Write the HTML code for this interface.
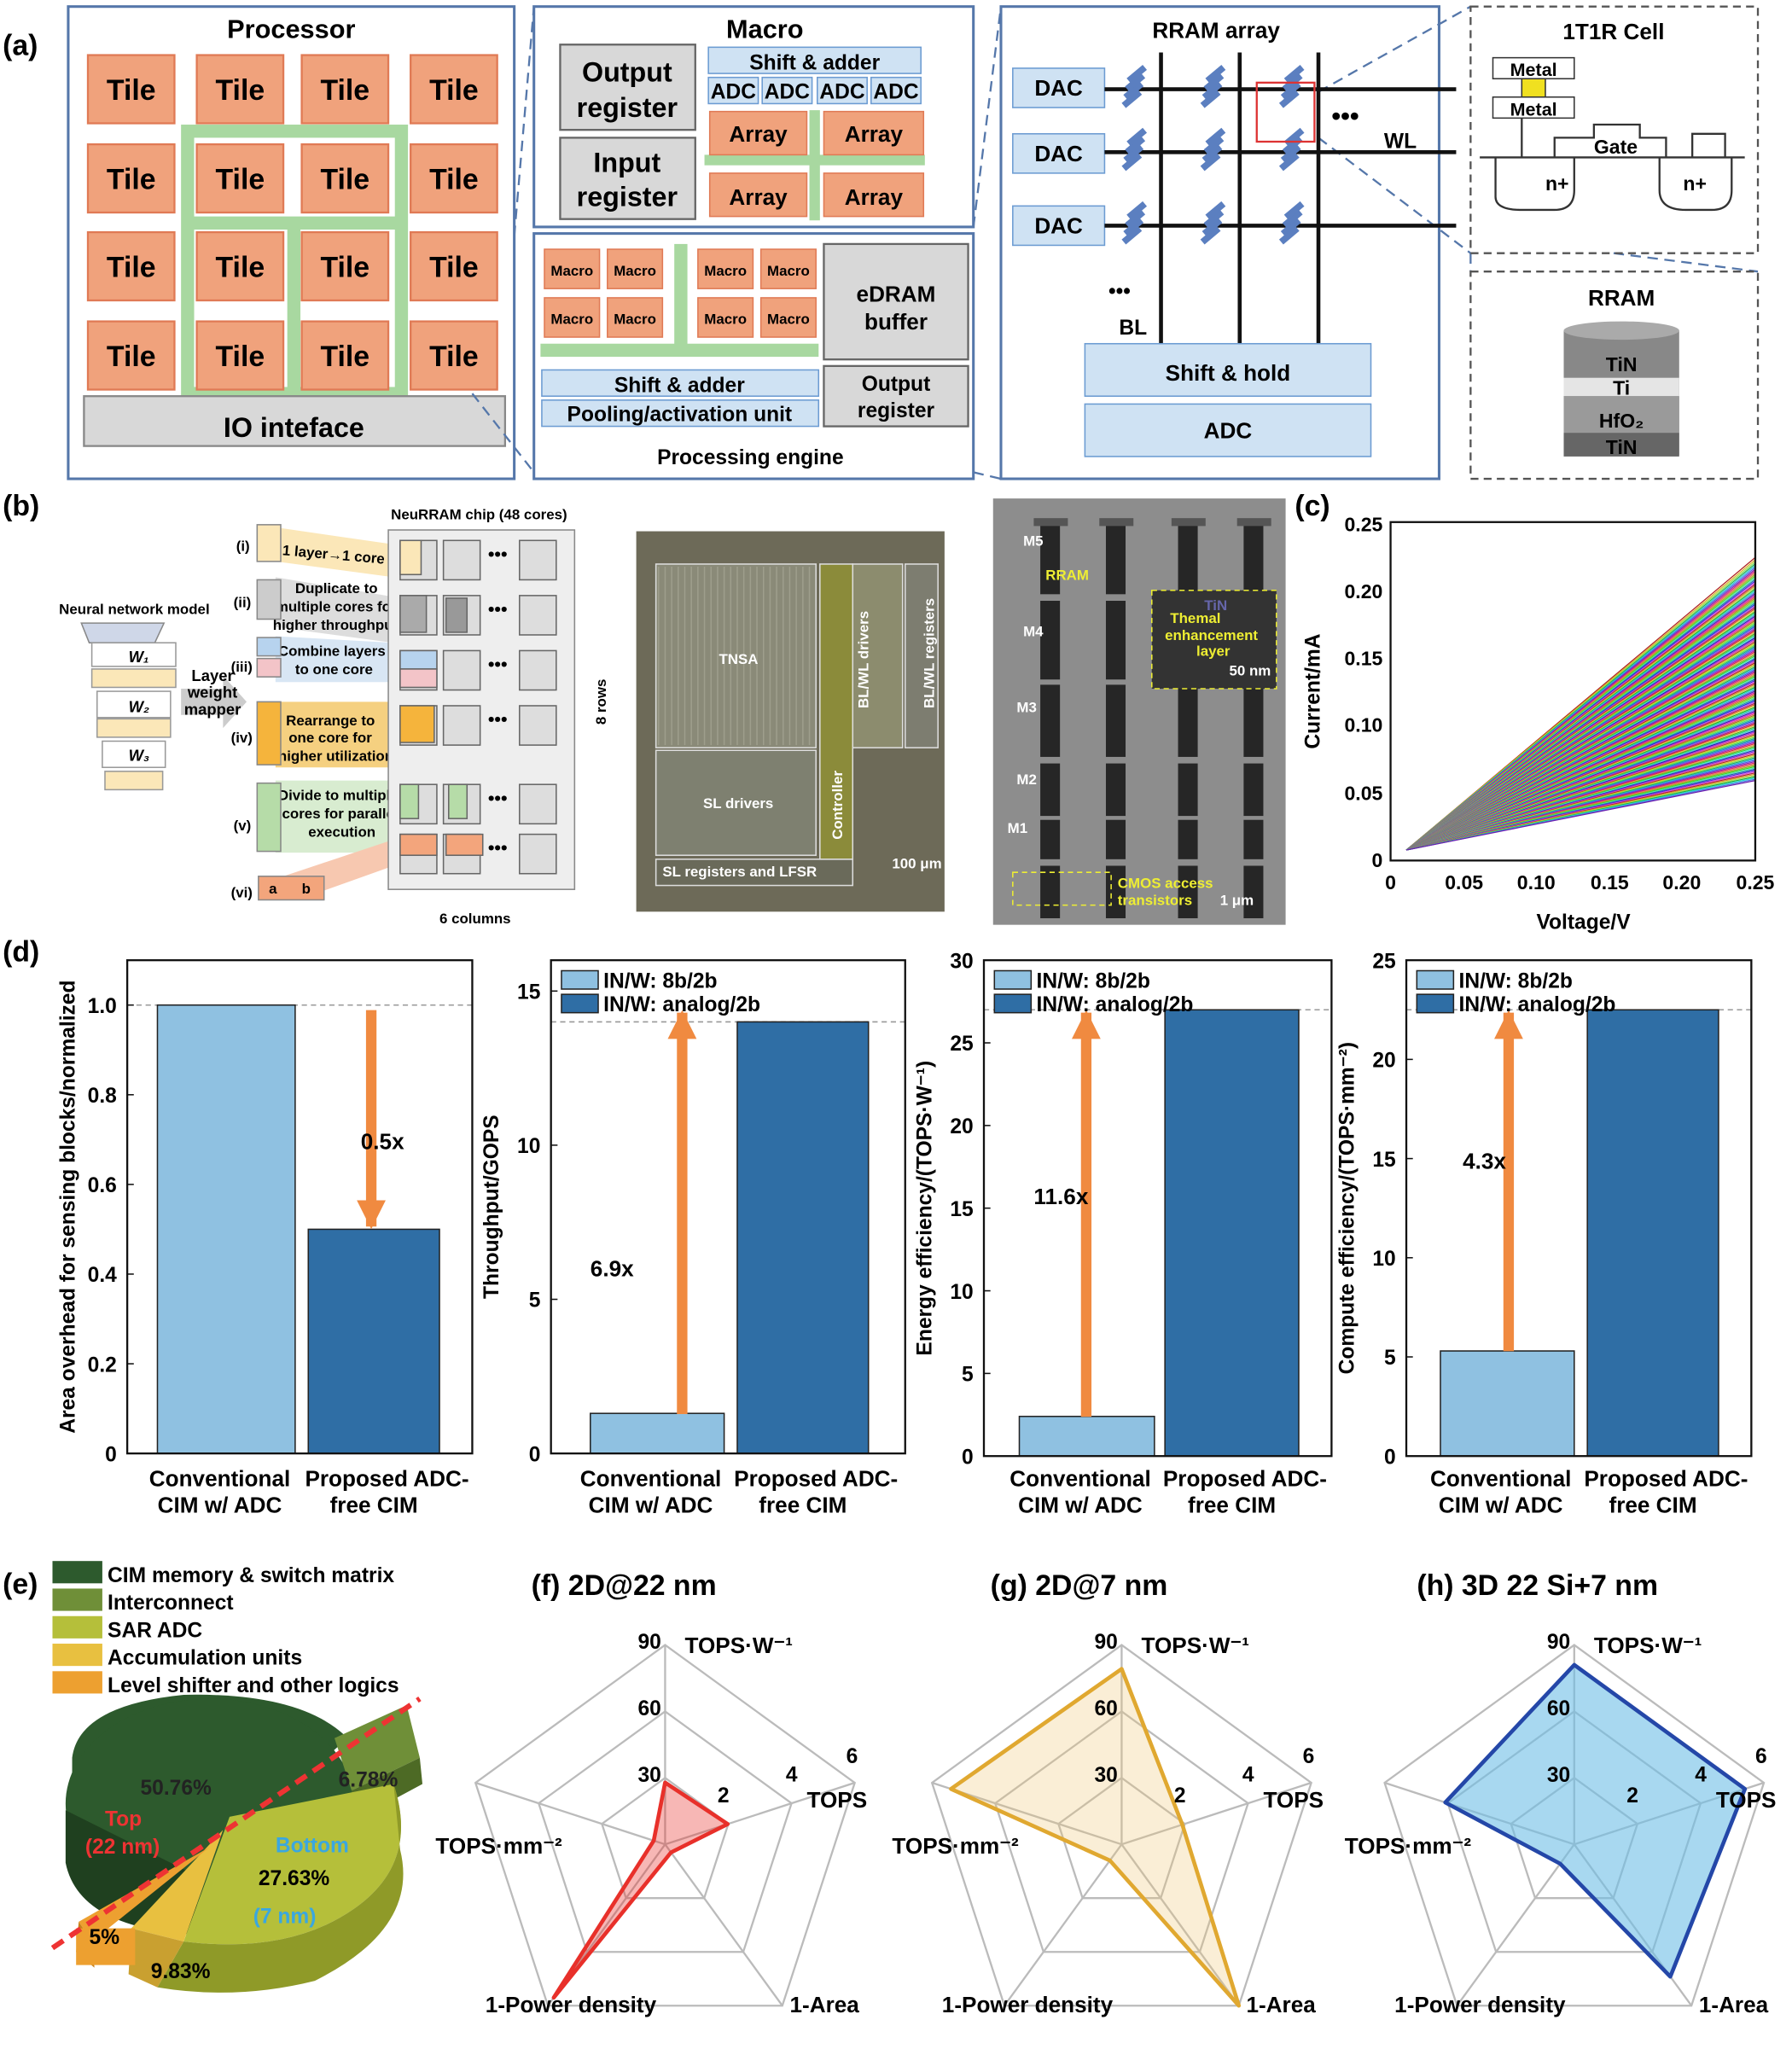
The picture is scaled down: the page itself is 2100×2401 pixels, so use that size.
<!DOCTYPE html>
<html><head><meta charset="utf-8"><style>
html,body{margin:0;padding:0;background:#fff}
svg{display:block}
text{font-family:"Liberation Sans",Arial,sans-serif;font-weight:bold}
</style></head><body>
<svg id="s" width="2100" height="2401" viewBox="0 0 1366 1562" preserveAspectRatio="none" xmlns="http://www.w3.org/2000/svg">
<rect width="1366" height="1562" fill="#fff"/>
<!-- (a) -->
<text x="2" y="42" font-size="22">(a)</text>
<rect x="52" y="5" width="340" height="360" fill="none" stroke="#5577aa" stroke-width="2"/>
<text x="222" y="29" font-size="20" text-anchor="middle">Processor</text>
<g fill="none" stroke="#a8d8a0" stroke-width="10">
<rect x="143" y="100" width="163" height="200"/><line x1="143" y1="170" x2="306" y2="170"/><line x1="224" y1="170" x2="224" y2="300"/>
</g>
<g id="tiles" fill="#f0a27c" stroke="#e07a55" stroke-width="1.5"></g>
<rect x="64" y="302" width="321" height="38" fill="#d8d8d8" stroke="#888" stroke-width="1.5"/>
<text x="224" y="333" font-size="21" text-anchor="middle">IO inteface</text>
<rect x="407" y="5" width="335" height="168" fill="none" stroke="#5577aa" stroke-width="2"/>
<text x="583" y="29" font-size="20" text-anchor="middle">Macro</text>
<rect x="427" y="34" width="103" height="65" fill="#d8d8d8" stroke="#666" stroke-width="1.5"/>
<text x="478" y="62" font-size="21" text-anchor="middle">Output</text><text x="478" y="89" font-size="21" text-anchor="middle">register</text>
<rect x="427" y="105" width="103" height="62" fill="#d8d8d8" stroke="#666" stroke-width="1.5"/>
<text x="478" y="131" font-size="21" text-anchor="middle">Input</text><text x="478" y="157" font-size="21" text-anchor="middle">register</text>
<rect x="540" y="36" width="162" height="20" fill="#cfe2f3" stroke="#6b9bd2"/>
<text x="621" y="53" font-size="16" text-anchor="middle">Shift &amp; adder</text>
<g fill="#cfe2f3" stroke="#6b9bd2"><rect x="540" y="59" width="38" height="20"/><rect x="581" y="59" width="38" height="20"/><rect x="623" y="59" width="38" height="20"/><rect x="664" y="59" width="38" height="20"/></g>
<g font-size="16" text-anchor="middle"><text x="559" y="75">ADC</text><text x="600" y="75">ADC</text><text x="642" y="75">ADC</text><text x="683" y="75">ADC</text></g>
<rect x="537" y="118" width="168" height="8" fill="#a8d8a0"/><rect x="617" y="84" width="8" height="84" fill="#a8d8a0"/>
<g fill="#f0a27c" stroke="#e07a55"><rect x="541" y="85" width="74" height="33"/><rect x="628" y="85" width="76" height="33"/><rect x="541" y="132" width="74" height="33"/><rect x="628" y="132" width="76" height="33"/></g>
<g font-size="17" text-anchor="middle"><text x="578" y="108">Array</text><text x="666" y="108">Array</text><text x="578" y="156">Array</text><text x="666" y="156">Array</text></g>
<rect x="407" y="178" width="335" height="187" fill="none" stroke="#5577aa" stroke-width="2"/>
<rect x="412" y="262" width="212" height="10" fill="#a8d8a0"/><rect x="514" y="186" width="10" height="80" fill="#a8d8a0"/>
<g id="mac" fill="#f0a27c" stroke="#e07a55"></g>
<rect x="628" y="186" width="110" height="88" fill="#d8d8d8" stroke="#666" stroke-width="1.5"/>
<text x="683" y="230" font-size="17" text-anchor="middle">eDRAM</text><text x="683" y="251" font-size="17" text-anchor="middle">buffer</text>
<rect x="413" y="282" width="211" height="20" fill="#cfe2f3" stroke="#6b9bd2"/><text x="518" y="299" font-size="16" text-anchor="middle">Shift &amp; adder</text>
<rect x="413" y="305" width="211" height="20" fill="#cfe2f3" stroke="#6b9bd2"/><text x="518" y="321" font-size="16" text-anchor="middle">Pooling/activation unit</text>
<rect x="628" y="279" width="110" height="46" fill="#d8d8d8" stroke="#666" stroke-width="1.5"/>
<text x="683" y="298" font-size="16" text-anchor="middle">Output</text><text x="683" y="318" font-size="16" text-anchor="middle">register</text>
<text x="572" y="354" font-size="16" text-anchor="middle">Processing engine</text>
<g stroke="#5577aa" stroke-dasharray="8 5" stroke-width="1.5" fill="none">
<line x1="392" y1="180" x2="407" y2="5"/><line x1="360" y1="300" x2="407" y2="360"/>
<line x1="742" y1="173" x2="763" y2="5"/><line x1="742" y1="360" x2="763" y2="365"/>
<line x1="1005" y1="70" x2="1121" y2="5"/><line x1="1005" y1="105" x2="1121" y2="193"/>
<line x1="1230" y1="193" x2="1340" y2="207"/><line x1="1121" y1="193" x2="1121" y2="207"/>
</g>
<rect x="763" y="5" width="334" height="360" fill="none" stroke="#5577aa" stroke-width="2"/>
<text x="927" y="29" font-size="17" text-anchor="middle">RRAM array</text>
<g fill="#cfe2f3" stroke="#6b9bd2"><rect x="772" y="52" width="70" height="30"/><rect x="772" y="102" width="70" height="30"/><rect x="772" y="157" width="70" height="30"/></g>
<g font-size="17" text-anchor="middle"><text x="807" y="73">DAC</text><text x="807" y="123">DAC</text><text x="807" y="178">DAC</text></g>
<g stroke="#111" stroke-width="3"><line x1="842" y1="68" x2="1110" y2="68"/><line x1="842" y1="116" x2="1110" y2="116"/><line x1="842" y1="172" x2="1110" y2="172"/>
<line x1="885" y1="40" x2="885" y2="262"/><line x1="945" y1="40" x2="945" y2="262"/><line x1="1005" y1="40" x2="1005" y2="262"/></g>
<g id="rr" fill="#5b7fc0"></g>
<rect x="958" y="63" width="44" height="45" fill="none" stroke="#d33" stroke-width="1.5"/>
<text x="1015" y="95" font-size="20">•••</text><text x="1055" y="113" font-size="16">WL</text>
<text x="845" y="227" font-size="16">•••</text><text x="853" y="255" font-size="16">BL</text>
<rect x="827" y="262" width="218" height="40" fill="#cfe2f3" stroke="#6b9bd2"/><text x="936" y="290" font-size="17" text-anchor="middle">Shift &amp; hold</text>
<rect x="827" y="308" width="218" height="40" fill="#cfe2f3" stroke="#6b9bd2"/><text x="936" y="334" font-size="17" text-anchor="middle">ADC</text>
<rect x="1121" y="5" width="219" height="188" fill="none" stroke="#555" stroke-dasharray="6 4" stroke-width="1.5"/>
<text x="1230" y="30" font-size="17" text-anchor="middle">1T1R Cell</text>
<rect x="1138" y="44" width="62" height="16" fill="#fff" stroke="#333"/><text x="1169" y="58" font-size="14" text-anchor="middle">Metal</text>
<rect x="1160" y="60" width="18" height="14" fill="#f0e020" stroke="#333"/>
<rect x="1138" y="74" width="62" height="16" fill="#fff" stroke="#333"/><text x="1169" y="88" font-size="14" text-anchor="middle">Metal</text>
<path d="M1128 120 H1330 M1185 120 V105 H1215 V95 H1250 V105 H1270 V120 M1290 120 V102 H1315 V120 M1160 90 V120" fill="none" stroke="#333" stroke-width="1.5"/>
<path d="M1140 120 V150 Q1140 160 1160 160 H1185 Q1200 160 1200 145 V120 M1265 120 V145 Q1265 160 1285 160 H1305 Q1320 160 1320 145 V120" fill="none" stroke="#333" stroke-width="1.5"/>
<text x="1178" y="145" font-size="15">n+</text><text x="1283" y="145" font-size="15">n+</text><text x="1215" y="117" font-size="15">Gate</text>
<rect x="1121" y="207" width="219" height="158" fill="none" stroke="#555" stroke-dasharray="6 4" stroke-width="1.5"/>
<text x="1236" y="233" font-size="17" text-anchor="middle">RRAM</text>
<rect x="1192" y="252" width="88" height="95" fill="#888"/><ellipse cx="1236" cy="252" rx="44" ry="7" fill="#aaa"/>
<rect x="1192" y="288" width="88" height="14" fill="#e5e5e5"/><rect x="1192" y="302" width="88" height="28" fill="#9a9a9a"/><rect x="1192" y="330" width="88" height="18" fill="#666"/>
<g font-size="15" text-anchor="middle"><text x="1236" y="283">TiN</text><text x="1236" y="301">Ti</text><text x="1236" y="326">HfO₂</text><text x="1236" y="346">TiN</text></g>

<!-- (b) -->
<text x="2" y="393" font-size="22">(b)</text>
<text x="45" y="468" font-size="11">Neural network model</text>
<path d="M62 475 H125 L118 490 H68 Z" fill="#cfd7e8" stroke="#888"/>
<rect x="70" y="490" width="64" height="18" fill="#fff" stroke="#999"/><rect x="70" y="510" width="64" height="14" fill="#fbe7b8" stroke="#999"/>
<rect x="74" y="527" width="56" height="20" fill="#fff" stroke="#999"/><rect x="74" y="548" width="56" height="14" fill="#fbe7b8" stroke="#999"/>
<rect x="78" y="565" width="48" height="20" fill="#fff" stroke="#999"/><rect x="80" y="588" width="44" height="14" fill="#fbe7b8" stroke="#999"/>
<text x="98" y="505" font-size="12" font-style="italic">W₁</text><text x="98" y="543" font-size="12" font-style="italic">W₂</text><text x="98" y="580" font-size="12" font-style="italic">W₃</text>
<path d="M138 525 L170 525 L170 515 L188 535 L170 555 L170 545 L138 545Z" fill="#ccc"/>
<text x="162" y="519" font-size="12" text-anchor="middle">Layer</text><text x="162" y="532" font-size="12" text-anchor="middle">weight</text><text x="162" y="545" font-size="12" text-anchor="middle">mapper</text>
<polygon points="210,402 300,415 300,440 210,428" fill="#fbe7b8"/><polygon points="210,440 300,455 300,490 210,478" fill="#ddd"/>
<polygon points="210,485 300,490 300,520 210,520" fill="#d8e6f4"/><polygon points="210,535 300,535 300,585 210,585" fill="#f5d080"/>
<polygon points="210,595 300,595 300,650 210,650" fill="#d8ecd0"/><polygon points="210,670 300,640 300,660 230,685" fill="#f7c8b0"/>
<g font-size="11"><text x="180" y="420">(i)</text><text x="178" y="463">(ii)</text><text x="176" y="512">(iii)</text><text x="176" y="566">(iv)</text><text x="178" y="633">(v)</text><text x="176" y="684">(vi)</text>
<text x="215" y="423" transform="rotate(5 215 423)">1 layer→1 core</text><text x="225" y="452">Duplicate to</text><text x="210" y="466">multiple cores for</text><text x="208" y="480">higher throughput</text>
<text x="212" y="500">Combine layers</text><text x="225" y="514">to one core</text><text x="218" y="553">Rearrange to</text><text x="220" y="566">one core for</text><text x="212" y="580">higher utilization</text>
<text x="212" y="610">Divide to multiple</text><text x="215" y="624">cores for parallel</text><text x="235" y="638">execution</text></g>
<rect x="196" y="400" width="18" height="28" fill="#fbe7b8" stroke="#888"/><rect x="196" y="442" width="18" height="30" fill="#ccc" stroke="#888"/>
<rect x="196" y="486" width="18" height="14" fill="#b7d3ee" stroke="#888"/><rect x="196" y="502" width="18" height="14" fill="#f3c4c8" stroke="#888"/>
<rect x="196" y="535" width="18" height="48" fill="#f5b43c" stroke="#888"/><rect x="196" y="597" width="18" height="52" fill="#b6dca8" stroke="#888"/>
<rect x="197" y="668" width="50" height="18" fill="#f3a57c" stroke="#888"/><text x="205" y="681" font-size="11">a</text><text x="230" y="681" font-size="11">b</text>
<text x="298" y="396" font-size="11">NeuRRAM chip (48 cores)</text>
<rect x="296" y="404" width="142" height="274" fill="#eee" stroke="#888"/>
<g id="cores" fill="#ddd" stroke="#666"></g>
<text x="335" y="704" font-size="11">6 columns</text><text x="462" y="535" font-size="11" transform="rotate(-90 462 535)" text-anchor="middle">8 rows</text>
<!-- chip photo -->
<rect x="485" y="405" width="235" height="290" fill="#6d6a58"/>
<rect x="500" y="430" width="122" height="140" fill="#8a8a78" stroke="#ddd"/>
<g stroke="#9e9e8c" stroke-width="1" id="chipg"></g>
<rect x="500" y="572" width="122" height="80" fill="#7e8070" stroke="#ddd"/>
<rect x="500" y="655" width="150" height="20" fill="#6a6a5a" stroke="#ddd"/>
<rect x="625" y="430" width="25" height="225" fill="#8b8b3a" stroke="#ddd"/><rect x="650" y="430" width="38" height="140" fill="#8c8c6e" stroke="#ddd"/><rect x="690" y="430" width="25" height="140" fill="#7d7d70" stroke="#ddd"/>
<g fill="#fff" font-size="11"><text x="548" y="506">TNSA</text><text x="536" y="616">SL drivers</text><text x="505" y="668">SL registers and LFSR</text><text x="680" y="662">100 μm</text>
<text x="642" y="640" transform="rotate(-90 642 640)">Controller</text><text x="662" y="540" transform="rotate(-90 662 540)">BL/WL drivers</text><text x="712" y="540" transform="rotate(-90 712 540)">BL/WL registers</text></g>
<!-- TEM -->
<rect x="757" y="380" width="223" height="325" fill="#8d8d8d"/>
<g id="tem" fill="#262626"></g>
<rect x="878" y="450" width="95" height="75" fill="#333" stroke="#ee3" stroke-dasharray="4 3"/>
<rect x="772" y="665" width="75" height="25" fill="none" stroke="#ee3" stroke-dasharray="4 3"/>
<g font-size="11" fill="#fff"><text x="780" y="416">M5</text><text x="780" y="485">M4</text><text x="775" y="543">M3</text><text x="775" y="598">M2</text><text x="768" y="635">M1</text><text x="930" y="690">1 μm</text><text x="937" y="515">50 nm</text></g>
<g font-size="11" fill="#ee3"><text x="797" y="442">RRAM</text><text x="892" y="475">Themal</text><text x="888" y="488">enhancement</text><text x="912" y="500">layer</text><text x="852" y="677">CMOS access</text><text x="852" y="690">transistors</text></g>
<text x="918" y="465" font-size="11" fill="#66a">TiN</text>
<!-- (c) -->
<text x="987" y="393" font-size="22">(c)</text>
<g id="iv" fill="none" stroke-width="0.8"></g>
<rect x="1060" y="398" width="278" height="258" fill="none" stroke="#111" stroke-width="1.5"/>
<g font-size="15" text-anchor="end"><text x="1054" y="405">0.25</text><text x="1054" y="456">0.20</text><text x="1054" y="507">0.15</text><text x="1054" y="558">0.10</text><text x="1054" y="610">0.05</text><text x="1054" y="661">0</text></g>
<g font-size="15" text-anchor="middle"><text x="1060" y="678">0</text><text x="1116" y="678">0.05</text><text x="1171" y="678">0.10</text><text x="1227" y="678">0.15</text><text x="1282" y="678">0.20</text><text x="1338" y="678">0.25</text></g>
<text x="1207" y="708" font-size="16" text-anchor="middle">Voltage/V</text>
<text x="1006" y="527" font-size="16" text-anchor="middle" transform="rotate(-90 1006 527)">Current/mA</text>
<!-- (d) -->
<text x="2" y="733" font-size="22">(d)</text>
<g id="d"></g>
<!-- (e) -->
<text x="2" y="1215" font-size="22">(e)</text>
<g font-size="16"><rect x="40" y="1190" width="38" height="17" fill="#2d5a2d"/><text x="82" y="1206">CIM memory &amp; switch matrix</text>
<rect x="40" y="1211" width="38" height="17" fill="#6f8f38"/><text x="82" y="1227">Interconnect</text>
<rect x="40" y="1232" width="38" height="17" fill="#b5bf3a"/><text x="82" y="1248">SAR ADC</text>
<rect x="40" y="1253" width="38" height="17" fill="#e8c040"/><text x="82" y="1269">Accumulation units</text>
<rect x="40" y="1274" width="38" height="17" fill="#eda030"/><text x="82" y="1290">Level shifter and other logics</text></g>
<path d="M55 1340 Q60 1300 140 1292 Q230 1290 265 1325 L180 1400 L55 1400 Z" fill="#2d5a2d"/>
<ellipse cx="160" cy="1375" rx="110" ry="80" fill="#2d5a2d"/>
<path d="M50 1380 L50 1420 Q60 1470 150 1475 L150 1430 Z" fill="#1f401f"/>
<path d="M255 1325 L310 1300 L320 1340 L268 1365 Z" fill="#6f8f38"/><path d="M268 1365 L320 1340 L322 1360 L270 1388 Z" fill="#4d6a25"/>
<path d="M175 1385 L300 1360 Q320 1420 270 1455 Q220 1490 140 1480 Z" fill="#b5bf3a"/>
<path d="M140 1480 Q220 1490 270 1455 Q320 1420 300 1360 L305 1410 Q320 1470 240 1510 Q180 1525 120 1515 Z" fill="#8f9a28"/>
<path d="M170 1395 L140 1480 L100 1470 Z" fill="#e8c040"/><path d="M100 1470 L140 1480 L120 1515 L98 1505Z" fill="#c9a030"/>
<path d="M160 1408 L60 1465 L70 1480 Z" fill="#eda030"/><path d="M60 1465 L70 1480 L72 1500 L58 1488Z" fill="#c7801a"/><rect x="58" y="1470" width="45" height="28" fill="#eda030"/>
<line x1="40" y1="1485" x2="320" y2="1295" stroke="#e33" stroke-width="4" stroke-dasharray="10 6"/>
<g font-size="16"><text x="107" y="1368" fill="#222">50.76%</text><text x="258" y="1362" fill="#222">6.78%</text><text x="197" y="1437">27.63%</text><text x="115" y="1508">9.83%</text><text x="68" y="1482">5%</text>
<text x="80" y="1392" fill="#e33">Top</text><text x="65" y="1413" fill="#e33">(22 nm)</text><text x="210" y="1412" fill="#3aa7e0">Bottom</text><text x="193" y="1466" fill="#3aa7e0">(7 nm)</text></g>
<g id="radar"></g>
</svg>
<script>
const NS="http://www.w3.org/2000/svg";
function el(p,t,a,txt){const e=document.createElementNS(NS,t);for(const k in a)e.setAttribute(k,a[k]);if(txt!==undefined)e.textContent=txt;p.appendChild(e);return e;}
const tg=document.getElementById('tiles');
[67,150,230,313].forEach(x=>[42,110,177,245].forEach(y=>{el(tg,'rect',{x:x,y:y,width:66,height:52});el(tg.parentNode,'text',{x:x+33,y:y+34,'font-size':22,'text-anchor':'middle'},'Tile');}));
const mg=document.getElementById('mac');
[[415,190],[463,190],[532,190],[580,190],[415,227],[463,227],[532,227],[580,227]].forEach(p=>{el(mg,'rect',{x:p[0],y:p[1],width:42,height:30});el(mg.parentNode,'text',{x:p[0]+21,y:p[1]+20,'font-size':11,'text-anchor':'middle'},'Macro');});
const rr=document.getElementById('rr');
[885,945,1005].forEach(x=>[68,116,172].forEach(y=>{for(let i=0;i<4;i++)el(rr,'rect',{x:x-28+i*5,y:y+4-i*4,width:16,height:5,transform:`rotate(-40 ${x-20} ${y+10})`});}));
const cg=document.getElementById('cores');
[305,338,396].forEach(x=>[412,454,496,538,598,636].forEach(y=>el(cg,'rect',{x:x,y:y,width:28,height:30})));
el(cg,'rect',{x:305,y:412,width:16,height:26,fill:'#fbe7b8'});el(cg,'rect',{x:305,y:454,width:20,height:28,fill:'#aaa'});el(cg,'rect',{x:340,y:456,width:16,height:26,fill:'#999'});
el(cg,'rect',{x:305,y:496,width:28,height:14,fill:'#b7d3ee'});el(cg,'rect',{x:305,y:510,width:28,height:14,fill:'#f3c4c8'});
el(cg,'rect',{x:305,y:538,width:26,height:28,fill:'#f5b43c'});el(cg,'rect',{x:305,y:598,width:14,height:26,fill:'#b6dca8'});el(cg,'rect',{x:342,y:598,width:14,height:26,fill:'#b6dca8'});
el(cg,'rect',{x:305,y:636,width:28,height:16,fill:'#f3a57c'});el(cg,'rect',{x:340,y:636,width:28,height:16,fill:'#f3a57c'});
[372].forEach(x=>[427,469,511,553,613,651].forEach(y=>el(cg.parentNode,'text',{x:x,y:y,'font-size':14},'•••')));
const chg=document.getElementById('chipg');for(let i=0;i<24;i++)el(chg,'line',{x1:502+i*5,y1:432,x2:502+i*5,y2:568});for(let i=0;i<12;i++)el(chg,'line',{x1:502,y1:578+i*6,x2:620,y2:578+i*6});
const tem=document.getElementById('tem');
[800,850,905,955].forEach(x=>{[[398,55],[458,60],[522,55],[582,40],[625,30],[660,40]].forEach(p=>el(tem,'rect',{x:x-7,y:p[0],width:15,height:p[1]}));el(tem,'rect',{x:x-12,y:395,width:26,height:6,fill:'#555'});});
const iv=document.getElementById('iv');
for(let i=0;i<160;i++){const f=i/159;const y=425+Math.pow(f,0.9)*170;el(iv,'line',{x1:1072,y1:648,x2:1338,y2:y,stroke:`hsl(${(i*47)%360},70%,${40+(i%3)*10}%)`});}
// (d)
const d=document.getElementById('d');
function chart(o){const {x0,x1,y0,y1,max,step,lb,db,lt,dt,ylab,lab,leg,down,ax}=o;
 const sy=v=>y1-(v/max)*(y1-y0);
 el(d,'line',{x1:x0,y1:sy(db),x2:x1,y2:sy(db),stroke:'#999','stroke-dasharray':'4 3'});
 el(d,'rect',{x:lb[0],y:sy(lt),width:lb[1],height:y1-sy(lt),fill:'#8fc1e1',stroke:'#222'});
 el(d,'rect',{x:o.dx,y:sy(dt),width:o.dw,height:y1-sy(dt),fill:'#2f6ea5',stroke:'#222'});
 el(d,'rect',{x:x0,y:y0,width:x1-x0,height:y1-y0,fill:'none',stroke:'#111','stroke-width':1.5});
 for(let v=0;v<=max+1e-9;v+=step){const y=sy(v);el(d,'line',{x1:x0,y1:y,x2:x0+5,y2:y,stroke:'#111'});el(d,'text',{x:x0-8,y:y+6,'font-size':16,'text-anchor':'end'},o.fmt?o.fmt(v):v);}
 const ax1=ax[0],yA=ax[1],yB=ax[2];
 el(d,'line',{x1:ax1,y1:yA,x2:ax1,y2:yB,stroke:'#f08a40','stroke-width':8});
 const t=down?`${ax1-11},${yB-20} ${ax1+11},${yB-20} ${ax1},${yB+2}`:`${ax1-11},${yB+20} ${ax1+11},${yB+20} ${ax1},${yB-2}`;
 el(d,'polygon',{points:t,fill:'#f08a40'});
 el(d,'text',{x:lab[0],y:lab[1],'font-size':17},lab[2]);
 el(d,'text',{x:x0-40,y:(y0+y1)/2,'font-size':16,'text-anchor':'middle',transform:`rotate(-90 ${x0-40} ${(y0+y1)/2})`},ylab);
 const c1=lb[0]+lb[1]/2,c2=o.dx+o.dw/2;
 el(d,'text',{x:c1-5,y:1133,'font-size':17,'text-anchor':'middle'},'Conventional');el(d,'text',{x:c1-5,y:1153,'font-size':17,'text-anchor':'middle'},'CIM w/ ADC');
 el(d,'text',{x:c2+10,y:1133,'font-size':17,'text-anchor':'middle'},'Proposed ADC-');el(d,'text',{x:c2,y:1153,'font-size':17,'text-anchor':'middle'},'free CIM');
 if(leg){el(d,'rect',{x:x0+8,y:y0+8,width:28,height:14,fill:'#8fc1e1',stroke:'#222'});el(d,'text',{x:x0+40,y:y0+21,'font-size':16},'IN/W: 8b/2b');
 el(d,'rect',{x:x0+8,y:y0+26,width:28,height:14,fill:'#2f6ea5',stroke:'#222'});el(d,'text',{x:x0+40,y:y0+39,'font-size':16},'IN/W: analog/2b');}
}
chart({x0:97,x1:360,y0:732,y1:1108,max:1.1,step:0.2,lb:[120,105],db:1,lt:1,dt:0.5,dx:235,dw:100,ylab:'Area overhead for sensing blocks/normalized',lab:[275,876,'0.5x'],down:true,ax:[283,770,935],fmt:v=>v==0?'0':v.toFixed(1)});
chart({x0:420,x1:690,y0:732,y1:1108,max:16,step:5,lb:[450,102],db:14,lt:1.3,dt:14,dx:562,dw:100,ylab:'Throughput/GOPS',lab:[450,973,'6.9x'],leg:1,ax:[520,1078,772]});
chart({x0:750,x1:1015,y0:732,y1:1110,max:30,step:5,lb:[777,103],db:27,lt:2.4,dt:27,dx:888,dw:102,ylab:'Energy efficiency/(TOPS·W⁻¹)',lab:[788,918,'11.6x'],leg:1,ax:[828,1080,772]});
chart({x0:1072,x1:1335,y0:732,y1:1110,max:25,step:5,lb:[1098,102],db:22.5,lt:5.3,dt:22.5,dx:1210,dw:100,ylab:'Compute efficiency/(TOPS·mm⁻²)',lab:[1115,891,'4.3x'],leg:1,ax:[1150,1030,772]});
// radars
const rg=document.getElementById('radar');
function radar(cx,cy,title,tx,vals,col,fill){
 const R=152,ang=[-90,-18,54,126,198].map(a=>a*Math.PI/180);
 const pt=(k,r)=>[cx+r*Math.cos(ang[k]),cy+r*Math.sin(ang[k])];
 el(rg,'text',{x:tx,y:1216,'font-size':22},title);
 [1/3,2/3,1].forEach(f=>el(rg,'polygon',{points:ang.map((a,k)=>pt(k,R*f).join(',')).join(' '),fill:'none',stroke:'#bbb','stroke-width':1.5}));
 ang.forEach((a,k)=>{const p=pt(k,R);el(rg,'line',{x1:cx,y1:cy,x2:p[0],y2:p[1],stroke:'#bbb','stroke-width':1.5});});
 el(rg,'polygon',{points:vals.map((v,k)=>pt(k,R*v).join(',')).join(' '),fill:fill,stroke:col,'stroke-width':3,'stroke-linejoin':'round'});
 [['30',1/3],['60',2/3],['90',1]].forEach(a=>el(rg,'text',{x:cx-3,y:cy-R*a[1]+3,'font-size':16,'text-anchor':'end'},a[0]));
 el(rg,'text',{x:cx+40,y:cy-32,'font-size':16},'2');el(rg,'text',{x:cx+92,y:cy-48,'font-size':16},'4');el(rg,'text',{x:cx+138,y:cy-62,'font-size':16},'6');
 el(rg,'text',{x:cx+15,y:cy-146,'font-size':17},'TOPS·W⁻¹');el(rg,'text',{x:cx+108,y:cy-28,'font-size':17},'TOPS');
 el(rg,'text',{x:cx-175,y:cy+7,'font-size':17},'TOPS·mm⁻²');el(rg,'text',{x:cx-137,y:cy+128,'font-size':17},'1-Power density');el(rg,'text',{x:cx+95,y:cy+128,'font-size':17},'1-Area');
}
radar(507,1406,'(f)   2D@22 nm',405,[0.31,0.33,0.05,0.95,0.06],'#e8302a','rgba(232,48,42,0.35)');
radar(855,1406,'(g)   2D@7 nm',755,[0.88,0.32,1.0,0.1,0.9],'#e0a830','rgba(240,200,120,0.3)');
radar(1200,1406,'(h)   3D 22 Si+7 nm',1080,[0.9,0.9,0.82,0.12,0.68],'#2447a8','rgba(110,190,230,0.6)');
</script>
</body></html>
